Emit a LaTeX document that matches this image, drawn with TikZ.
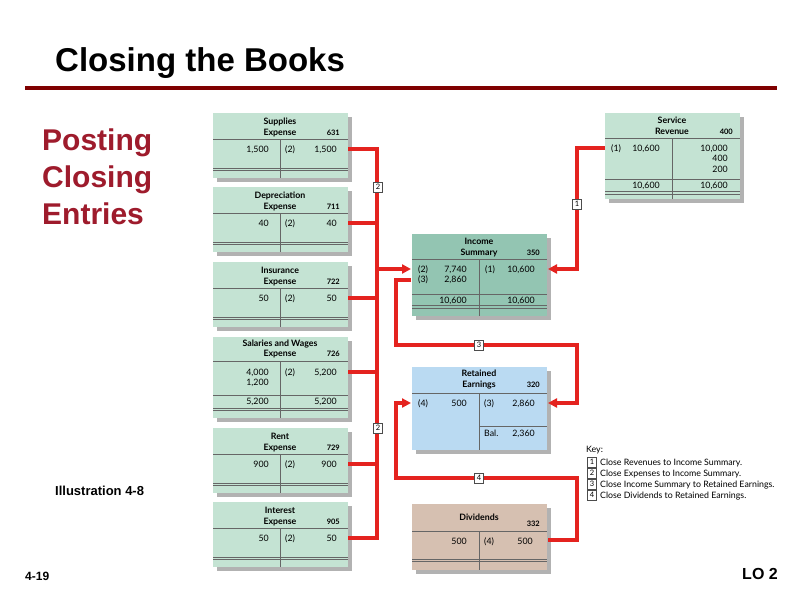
\documentclass[tikz,border=0pt]{standalone}
\usepackage{fontspec}
\setmainfont{Liberation Sans}
\newfontfamily\acc{Lato}
\usepackage{tikz}
\usetikzlibrary{calc,arrows.meta,positioning,shadows}
\definecolor{redl}{HTML}{E4231F}
\definecolor{maroon}{HTML}{7F0000}
\definecolor{crim}{HTML}{9E1B2C}
\definecolor{mintx}{HTML}{C4E3D3}
\definecolor{tealx}{HTML}{93C5B2}
\definecolor{bluex}{HTML}{BADAF2}
\definecolor{tanx}{HTML}{D6C0B1}
\tikzset{
  rl/.style={line width=3.3pt,redl},
  ar/.style={rl,-{Triangle[length=9pt,width=9pt]}},
  acct/.style={anchor=north west,inner sep=0pt,minimum width=135pt,
    drop shadow={shadow xshift=3.5pt,shadow yshift=-3.5pt,fill=black!30,opacity=1}},
  tl/.style={draw=black!60,line width=0.9pt},
  hd/.style={font=\acc\bfseries\fontsize{8.8}{9}\selectfont,inner sep=0pt,text height=6pt,text depth=0pt},
  no/.style={font=\acc\bfseries\fontsize{7.5}{8}\selectfont,inner sep=0pt,anchor=east,text height=6pt,text depth=0pt},
  numl/.style={font=\acc\fontsize{8.8}{9}\selectfont,inner sep=0pt,anchor=east,text height=6pt,text depth=0pt},
  numr/.style={numl,anchor=west},
  keybox/.style={draw=black!70,fill=white,line width=0.6pt,minimum width=9pt,minimum height=10pt,
    inner sep=0pt,font=\acc\fontsize{7.5}{8}\selectfont},
  keytx/.style={font=\acc\fontsize{8.8}{9}\selectfont,inner sep=0pt,anchor=west,text height=6pt,text depth=0pt}
}
\begin{document}
\begin{tikzpicture}[x=1pt,y=-1pt]
\fill[white] (0,0) rectangle (800,600);
\useasboundingbox (0,0) rectangle (800,600);
% heading
\node[anchor=base west,inner sep=0pt,font=\bfseries\fontsize{33}{36}\selectfont] (title) at (55,71) {Closing the Books};
\draw[maroon,line width=4.5pt] (25,88) -- (777,88);
\node[anchor=base west,inner sep=0pt,crim,font=\bfseries\fontsize{30}{32}\selectfont] (post) at (42,150) {Posting};
\node[anchor=base west,inner sep=0pt,crim,font=\bfseries\fontsize{30}{32}\selectfont] (clos) at (42,187) {Closing};
\node[anchor=base west,inner sep=0pt,crim,font=\bfseries\fontsize{30}{32}\selectfont] (entr) at (42,224) {Entries};
\node[anchor=base west,inner sep=0pt,font=\bfseries\fontsize{13}{15}\selectfont] (illu) at (55,495) {Illustration 4-8};
\node[anchor=base west,inner sep=0pt,font=\bfseries\fontsize{12}{14}\selectfont] (page) at (25,580) {4-19};
\node[anchor=base east,inner sep=0pt,font=\bfseries\fontsize{16}{18}\selectfont] (lo) at (778,579) {LO 2};

% expense accounts
\foreach \t/\nm/\ta/\no/\amt in {113/sup/Supplies/631/{1,500},187/dep/Depreciation/711/40,262/ins/Insurance/722/50,428/rnt/Rent/729/900,502/int/Interest/905/50}{
  \node[acct,fill=mintx,minimum height=65pt] (\nm) at (213,\t) {};
  \draw[tl] (213,\t+26) -- (348,\t+26) (280,\t+26) -- (280,\t+65)
    (213,\t+55) -- (348,\t+55) (213,\t+57.5) -- (348,\t+57.5);
  \node[hd] (\nm-a) at (280,\t+8) {\ta};
  \node[hd] (\nm-b) at (280,\t+19) {Expense};
  \node[no] (\nm-n) at (340,\t+19) {\no};
  \node[numl] (\nm-1) at (269,\t+36) {\amt};
  \node[numr] (\nm-2) at (285,\t+36) {(2)};
  \node[numl] (\nm-3) at (337,\t+36) {\amt};
  \coordinate (\nm-r) at (348,\t+36);
}
\node[acct,fill=mintx,minimum height=81pt] (sal) at (213,337) {};
\draw[tl] (213,361) -- (348,361) (280,361) -- (280,418) (213,395) -- (348,395)
  (213,408) -- (348,408) (213,410.5) -- (348,410.5);
\node[hd] (sal-a) at (280,343) {Salaries and Wages};
\node[hd] (sal-b) at (280,353) {Expense};
\node[no] (sal-n) at (340,353) {726};
\node[numl] (sal-1) at (269,372) {4,000};
\node[numl] (sal-2) at (269,382) {1,200};
\node[numr] (sal-3) at (285,372) {(2)};
\node[numl] (sal-4) at (337,372) {5,200};
\node[numl] (sal-5) at (269,401) {5,200};
\node[numl] (sal-6) at (337,401) {5,200};
\coordinate (sal-r) at (348,372);

% service revenue
\node[acct,fill=mintx,minimum height=86pt] (srv) at (605,113) {};
\draw[tl] (605,138) -- (740,138) (672,138) -- (672,199) (605,179) -- (740,179)
  (605,191.5) -- (740,191.5) (605,194) -- (740,194);
\node[hd] (srv-a) at (672,120) {Service};
\node[hd] (srv-b) at (672,131) {Revenue};
\node[no] (srv-n) at (733,131) {400};
\node[numr] (srv-1) at (611,148) {(1)};
\node[numl] (srv-2) at (660,148) {10,600};
\node[numl] (srv-3) at (728,148) {10,000};
\node[numl] (srv-4) at (728,158) {400};
\node[numl] (srv-5) at (728,169) {200};
\node[numl] (srv-6) at (660,185) {10,600};
\node[numl] (srv-7) at (728,185) {10,600};
\coordinate (srv-l) at (605,148);

% income summary
\node[acct,fill=tealx,minimum height=82pt] (isum) at (412,234) {};
\draw[tl] (412,259) -- (547,259) (479,259) -- (479,316) (412,294) -- (547,294)
  (412,305.5) -- (547,305.5) (412,308) -- (547,308);
\node[hd] (isum-a) at (479,241) {Income};
\node[hd] (isum-b) at (479,252) {Summary};
\node[no] (isum-n) at (540,252) {350};
\node[numr] (isum-1) at (418,269) {(2)};
\node[numr] (isum-2) at (418,279) {(3)};
\node[numl] (isum-3) at (467,269) {7,740};
\node[numl] (isum-4) at (467,279) {2,860};
\node[numr] (isum-5) at (485,269) {(1)};
\node[numl] (isum-6) at (535,269) {10,600};
\node[numl] (isum-7) at (467,300) {10,600};
\node[numl] (isum-8) at (535,300) {10,600};
\coordinate (isum-l1) at (411,269);
\coordinate (isum-l2) at (411,280);
\coordinate (isum-r1) at (548,269);

% retained earnings
\node[acct,fill=bluex,minimum height=83pt] (ret) at (412,367) {};
\draw[tl] (412,393) -- (547,393) (479,393) -- (479,450) (479,426) -- (547,426);
\node[hd] (ret-a) at (479,373) {Retained};
\node[hd] (ret-b) at (479,384) {Earnings};
\node[no] (ret-n) at (540,384) {320};
\node[numr] (ret-1) at (418,403) {(4)};
\node[numl] (ret-2) at (467,403) {500};
\node[numr] (ret-3) at (484,403) {(3)};
\node[numl] (ret-4) at (535,403) {2,860};
\node[numr] (ret-5) at (484,433) {Bal.};
\node[numl] (ret-6) at (535,433) {2,360};
\coordinate (ret-l) at (411,403);
\coordinate (ret-r) at (548,403);

% dividends
\node[acct,fill=tanx,minimum height=66pt] (div) at (412,504) {};
\draw[tl] (412,531) -- (547,531) (479,531) -- (479,570) (412,559) -- (547,559)
  (412,561.5) -- (547,561.5);
\node[hd] (div-a) at (479,517) {Dividends};
\node[no] (div-n) at (540,523) {332};
\node[numl] (div-1) at (467,541) {500};
\node[numr] (div-2) at (484,541) {(4)};
\node[numl] (div-3) at (533,541) {500};
\coordinate (div-r) at (548,540);

% closing connectors
\coordinate (bx) at (377,538);
\coordinate (lx) at (396,0);
\coordinate (rx) at (577,0);
\draw[rl] (sup-r) -| (bx) -- (int-r);
\foreach \nm in {dep,ins,sal,rnt} \draw[rl] (\nm-r) -- (\nm-r -| bx);
\draw[ar] (isum-l1 -| bx) -- (isum-l1);
\draw[ar] (srv-l) -| (isum-r1 -| rx) -- (isum-r1);
\draw[ar] (isum-l2) -| (lx |- 0,345) -| (ret-r -| rx) -- (ret-r);
\draw[ar] (div-r) -| (rx |- 0,478) -| (ret-l -| lx) -- (ret-l);
\node[keybox] (m2a) at (378,187) {2};
\node[keybox] (m2b) at (378,428) {2};
\node[keybox] (m1) at (577,204) {1};
\node[keybox] (m3) at (479,345) {3};
\node[keybox] (m4) at (479,478) {4};

% key
\node[keytx] (key) at (586,449) {Key:};
\node[keybox] (k1) at (592,462) {1};
\node[keybox] (k2) at (592,473) {2};
\node[keybox] (k3) at (592,484) {3};
\node[keybox] (k4) at (592,495) {4};
\node[keytx] (t1) at (600,462) {Close Revenues to Income Summary.};
\node[keytx] (t2) at (600,473) {Close Expenses to Income Summary.};
\node[keytx] (t3) at (600,484) {Close Income Summary to Retained Earnings.};
\node[keytx] (t4) at (600,495) {Close Dividends to Retained Earnings.};
\end{tikzpicture}
\end{document}
